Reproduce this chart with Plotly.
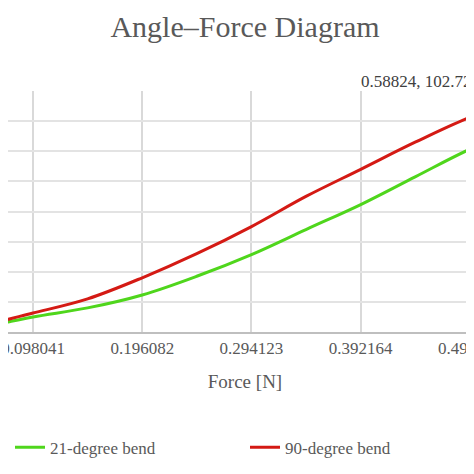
import plotly.graph_objects as go

force = [0.0, 0.049, 0.098041, 0.147, 0.196082, 0.245, 0.294123, 0.343, 0.392164, 0.441, 0.490205, 0.539, 0.58824]
bend_21 = [20.0, 21.5, 25.0, 28.0, 32.3, 38.5, 45.7, 54.0, 62.3, 71.5, 80.7, 88.0, 95.0]
bend_90 = [20.0, 22.0, 26.3, 31.0, 38.0, 46.0, 55.0, 65.0, 74.0, 83.0, 91.3, 97.5, 102.721]
tick_vals = [0.098041, 0.196082, 0.294123, 0.392164, 0.490205]

serif = "Liberation Serif"
grey = "#595959"

fig = go.Figure()
fig.add_trace(go.Scatter(x=force, y=bend_21, mode="lines", name="21-degree bend",
                         line=dict(color="#4fd61c", width=3, shape="spline")))
fig.add_trace(go.Scatter(x=force, y=bend_90, mode="lines", name="90-degree bend",
                         line=dict(color="#d41a14", width=3, shape="spline")))

fig.add_annotation(x=1.0, y=1.04, xref="paper", yref="paper", text="0.58824, 102.721",
                   showarrow=False, xanchor="right", yanchor="middle",
                   font=dict(family=serif, size=17, color="#404040"))

fig.update_layout(
    width=474, height=474,
    margin=dict(l=0, r=0, t=83, b=150, autoexpand=False),
    paper_bgcolor="white", plot_bgcolor="white",
    title=dict(text="Angle–Force Diagram", x=0.5, y=0.962, yanchor="middle",
               font=dict(family=serif, size=30, color=grey)),
    font=dict(family=serif, color=grey),
    xaxis=dict(range=[0.0756, 0.5010], tickvals=tick_vals, ticktext=[str(v) for v in tick_vals],
               showgrid=True, gridcolor="#d9d9d9", gridwidth=1.5, zeroline=False,
               showline=True, linecolor="#bfbfbf", linewidth=1.5, ticks="",
               automargin=False, ticklabeloverflow="allow",
               tickfont=dict(size=17, color=grey),
               title=dict(text="Force [N]", font=dict(size=19, color=grey), standoff=18)),
    yaxis=dict(range=[20, 100], dtick=10, showgrid=True, gridcolor="#e3e3e3", gridwidth=1.5,
               zeroline=False, showticklabels=False, ticks="", automargin=False),
    legend=dict(orientation="h", x=0.5, xanchor="center", y=-0.48, yanchor="middle",
                font=dict(size=17, color=grey), entrywidth=190, entrywidthmode="pixels"),
    showlegend=True,
)

fig.write_html("out.html")
